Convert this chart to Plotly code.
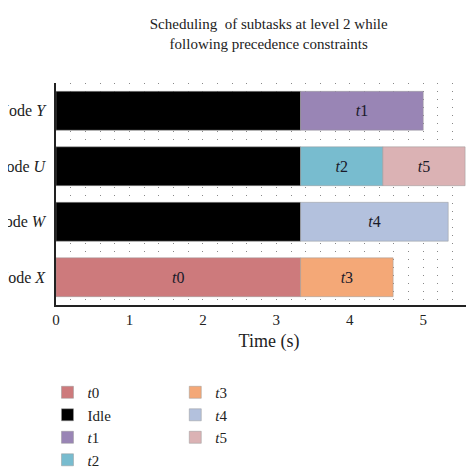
import plotly.graph_objects as go

nodes = ["Node <i>X</i>", "Node <i>W</i>", "Node <i>U</i>", "Node <i>Y</i>"]

tasks = ["t0", "Idle", "t1", "t2", "t3", "t4", "t5"]
task_node = [["Node <i>X</i>"], ["Node <i>W</i>", "Node <i>U</i>", "Node <i>Y</i>"],
             ["Node <i>Y</i>"], ["Node <i>U</i>"], ["Node <i>X</i>"], ["Node <i>W</i>"], ["Node <i>U</i>"]]
task_start = [[0], [0, 0, 0], [3.33], [3.33], [3.33], [3.33], [4.45]]
task_dur = [[3.33], [3.33, 3.33, 3.33], [1.67], [1.12], [1.26], [2.01], [1.12]]
colors = ["#cd7a7c", "#000000", "#9985b5", "#78bccf", "#f4a877", "#b3c1dd", "#dbb2b4"]

fig = go.Figure()
for i, name in enumerate(tasks):
    label = "Idle" if name == "Idle" else "<i>t</i>" + name[1:]
    fig.add_trace(go.Bar(
        y=task_node[i], x=task_dur[i], base=task_start[i], orientation="h",
        name=label, marker=dict(color=colors[i], line=dict(color="#999999", width=0.5)),
        text=None if name == "Idle" else [label] * len(task_node[i]),
        textposition="inside", insidetextanchor="middle", textangle=0,
        textfont=dict(color="#1a1a2a", size=16, family="Liberation Serif"),
        legend="legend" if i < 4 else "legend2",
    ))

fig.update_layout(
    width=474, height=474, barmode="overlay", bargap=0.3,
    plot_bgcolor="white", paper_bgcolor="white",
    font=dict(family="Liberation Serif", size=15, color="#222"),
    margin=dict(l=48, r=0, t=75, b=177, autoexpand=False),
    title=dict(text="Scheduling  of subtasks at level 2 while<br>following precedence constraints",
               x=0.55, xanchor="center", y=0.955, font=dict(size=15)),
    legend=dict(x=-0.02, y=-0.32, xanchor="left", yanchor="top", tracegroupgap=0,
                font=dict(size=15), itemwidth=30),
    legend2=dict(x=0.28, y=-0.32, xanchor="left", yanchor="top", font=dict(size=15), itemwidth=30),
    uniformtext=dict(mode="show", minsize=16),
)
fig.update_xaxes(range=[0, 5.8], tickvals=[0, 1, 2, 3, 4, 5], showgrid=False,
                 showline=True, linecolor="#222", linewidth=1.5, ticks="",
                 title=dict(text="Time (s)", standoff=8), automargin=False,
                 minor=dict(dtick=0.2, showgrid=True, gridcolor="#888", griddash="1px,7px", gridwidth=1))
fig.update_yaxes(categoryorder="array", categoryarray=nodes, showgrid=False, automargin=False,
                 showline=True, linecolor="#222", linewidth=1.5, ticks="", ticklabelstandoff=6,
                 tickfont=dict(size=16))

fig.write_html("out.html")
